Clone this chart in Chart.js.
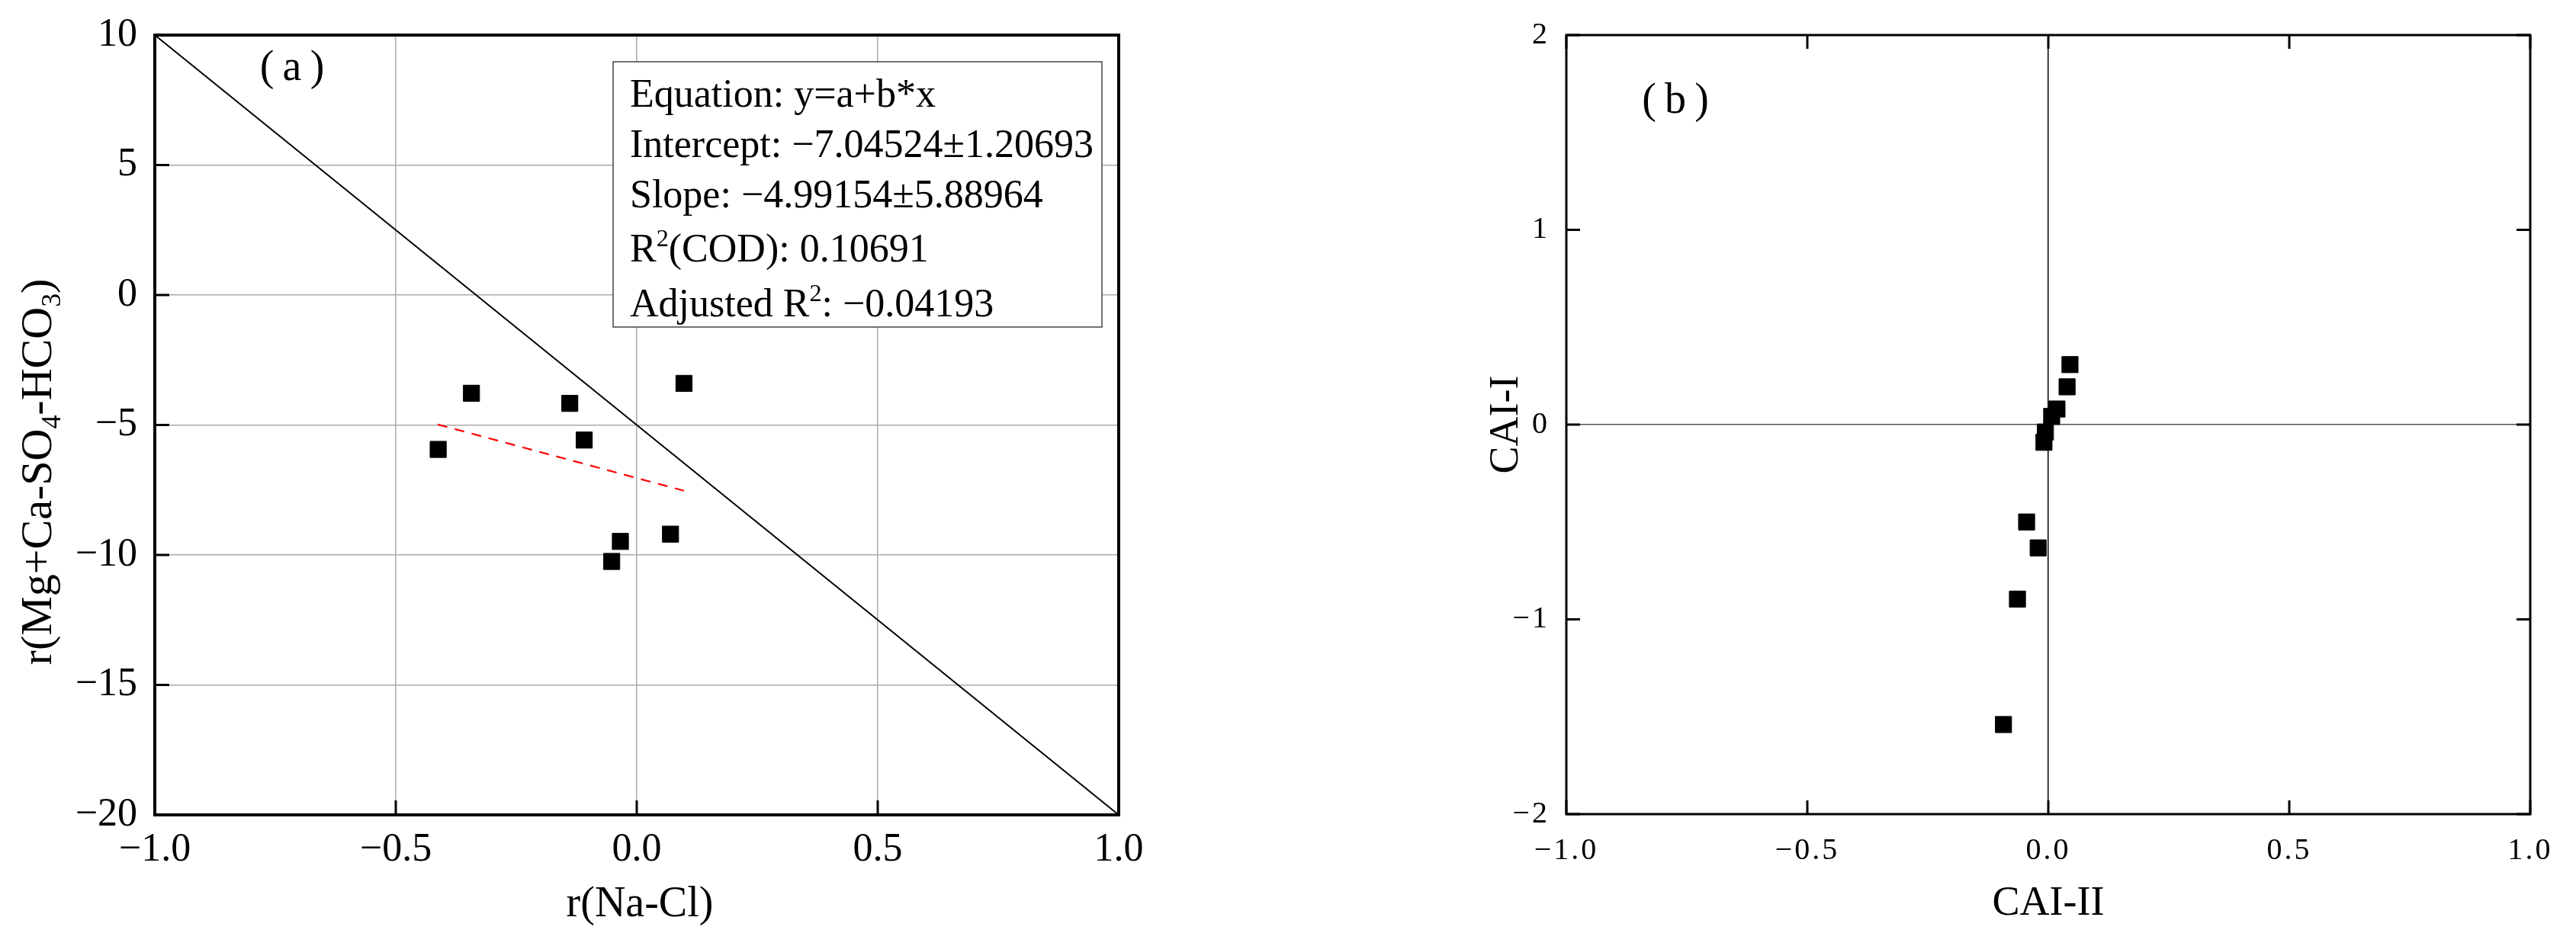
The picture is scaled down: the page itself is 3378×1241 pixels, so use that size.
<!DOCTYPE html>
<html>
<head>
<meta charset="utf-8">
<script src="https://cdn.jsdelivr.net/npm/chart.js@4.4.1/dist/chart.umd.min.js"></script>
<style>
  html, body { margin: 0; padding: 0; background: #fff; overflow: hidden; }
  canvas { position: absolute; top: 0; }
  #chartA { left: 0; }
  #chartB { left: 1689px; }
</style>
</head>
<body>
<canvas id="chartA" width="1689" height="1241"></canvas>
<canvas id="chartB" width="1689" height="1241"></canvas>
<script>
    // --- DATA ---
    // panel (a): r(Na-Cl) vs r(Mg+Ca-SO4-HCO3)
    const naCl = [-0.412, -0.343, -0.139, -0.109, 0.098, -0.034, -0.052, 0.070];
    const mgCaSo4Hco3 = [-5.94, -3.78, -4.17, -5.58, -3.40, -9.48, -10.25, -9.20];
    const fitX = [-0.413, 0.098];
    const fitY = [-4.98, -7.53];
    const refX = [-1, 1];
    const refY = [10, -20];
    const xTicksA = [-1, -0.5, 0, 0.5, 1];
    const yTicksA = [10, 5, 0, -5, -10, -15, -20];

    // fit statistics shown in the box
    const fitIntercept = -7.04524, interceptErr = 1.20693;
    const fitSlope = -4.99154, slopeErr = 5.88964;
    const r2 = 0.10691, adjR2 = -0.04193;

    // panel (b): CAI-II vs CAI-I
    const cai2 = [0.045, 0.039, 0.018, 0.007, -0.006, -0.009, -0.045, -0.021, -0.064, -0.093];
    const cai1 = [0.308, 0.194, 0.080, 0.042, -0.038, -0.091, -0.500, -0.633, -0.896, -1.540];
    const xTicksB = [-1, -0.5, 0, 0.5, 1];
    const yTicksB = [2, 1, 0, -1, -2];

    const SERIF = "'Liberation Serif', 'Times New Roman', serif";

    const minus = v => (v < 0 ? '\u2212' : '');
    const fmtX = v => minus(v) + Math.abs(v).toFixed(1);
    const fmtY = v => minus(v) + Math.abs(v);
    const fmtN = v => minus(v) + Math.abs(v).toFixed(5);

    const pts = (xs, ys) => xs.map((x, i) => ({ x: x, y: ys[i] }));

    // draw text made of runs (normal / sub / sup), optionally rotated -90deg
    function drawRuns(ctx, runs, x, y, size, family, align, rotated) {
        ctx.save();
        ctx.translate(x, y);
        if (rotated) ctx.rotate(-Math.PI / 2);
        ctx.fillStyle = '#000';
        ctx.textBaseline = 'alphabetic';
        ctx.textAlign = 'left';
        const fontOf = r => ((r.sub || r.sup) ? size * 0.62 : size) + 'px ' + family;
        let w = 0;
        runs.forEach(r => { ctx.font = fontOf(r); w += ctx.measureText(r.t).width; });
        let cx = align === 'center' ? -w / 2 : 0;
        runs.forEach(r => {
            ctx.font = fontOf(r);
            const dy = r.sub ? size * 0.2 : (r.sup ? -size * 0.38 : 0);
            ctx.fillText(r.t, cx, dy);
            cx += ctx.measureText(r.t).width;
        });
        ctx.restore();
    }

    function inwardTicks(ctx, area, xScale, yScale, xs, ys, len, sides) {
        ctx.save();
        ctx.strokeStyle = '#000';
        ctx.lineWidth = 3;
        ctx.beginPath();
        xs.forEach(v => {
            const px = xScale.getPixelForValue(v);
            if (sides.bottom) { ctx.moveTo(px, area.bottom); ctx.lineTo(px, area.bottom - len); }
            if (sides.top) { ctx.moveTo(px, area.top); ctx.lineTo(px, area.top + len); }
        });
        ys.forEach(v => {
            const py = yScale.getPixelForValue(v);
            if (sides.left) { ctx.moveTo(area.left, py); ctx.lineTo(area.left + len, py); }
            if (sides.right) { ctx.moveTo(area.right, py); ctx.lineTo(area.right - len, py); }
        });
        ctx.stroke();
        ctx.restore();
    }

    function frame(ctx, area, w) {
        ctx.save();
        ctx.strokeStyle = '#000';
        ctx.lineWidth = w;
        ctx.strokeRect(area.left, area.top, area.right - area.left, area.bottom - area.top);
        ctx.restore();
    }

    // "(a)" panel label with the wide bracket spacing of the original
    const panelLabel = ch => [{ t: '(\u2009' + ch + '\u2009)' }];

    // --- PANEL (a) ---
    const decorA = {
        id: 'decorA',
        afterDraw(chart) {
            const ctx = chart.ctx, area = chart.chartArea;
            const xs = chart.scales.x, ys = chart.scales.y;

            // fit statistics box
            ctx.save();
            ctx.fillStyle = '#fff';
            ctx.fillRect(804, 81, 641, 348);
            ctx.strokeStyle = '#444';
            ctx.lineWidth = 1.5;
            ctx.strokeRect(804, 81, 641, 348);
            ctx.restore();
            const lines = [
                [{ t: 'Equation: y=a+b*x' }],
                [{ t: 'Intercept: ' + fmtN(fitIntercept) + '\u00b1' + interceptErr.toFixed(5) }],
                [{ t: 'Slope: ' + fmtN(fitSlope) + '\u00b1' + slopeErr.toFixed(5) }],
                [{ t: 'R' }, { t: '2', sup: true }, { t: '(COD): ' + fmtN(r2) }],
                [{ t: 'Adjusted R' }, { t: '2', sup: true }, { t: ': ' + fmtN(adjR2) }]
            ];
            const baselines = [140, 206, 272, 343, 415];
            lines.forEach((runs, i) => drawRuns(ctx, runs, 826, baselines[i], 52, SERIF, 'left', false));

            frame(ctx, area, 4);
            inwardTicks(ctx, area, xs, ys, xTicksA, yTicksA, 19, { bottom: true, left: true });

            drawRuns(ctx, [{ t: 'r(Na-Cl)' }], (area.left + area.right) / 2 + 4, 1202, 56, SERIF, 'center', false);
            drawRuns(ctx, [{ t: 'r(Mg+Ca-SO' }, { t: '4', sub: true }, { t: '-HCO' }, { t: '3', sub: true }, { t: ')' }],
                67, 619, 58, SERIF, 'center', true);
            drawRuns(ctx, panelLabel('a'), 383, 105, 56, SERIF, 'center', false);
        }
    };

    new Chart(document.getElementById('chartA'), {
        type: 'scatter',
        data: {
            datasets: [
                {
                    label: 'samples',
                    data: pts(naCl, mgCaSo4Hco3),
                    pointStyle: 'rect',
                    pointRadius: 15,
                    pointHoverRadius: 15,
                    backgroundColor: '#000',
                    borderColor: '#000',
                    borderWidth: 1
                },
                {
                    label: 'fit',
                    data: pts(fitX, fitY),
                    showLine: true,
                    pointRadius: 0,
                    borderColor: '#ff0000',
                    borderWidth: 2.2,
                    borderDash: [13, 10]
                },
                {
                    label: 'reference',
                    data: pts(refX, refY),
                    showLine: true,
                    pointRadius: 0,
                    borderColor: '#000',
                    borderWidth: 2
                }
            ]
        },
        options: {
            responsive: false,
            animation: false,
            events: [],
            layout: { padding: { top: 46, right: 222, left: 0, bottom: 0 } },
            plugins: { legend: { display: false }, tooltip: { enabled: false } },
            scales: {
                x: {
                    type: 'linear', min: -1, max: 1,
                    afterBuildTicks: s => { s.ticks = xTicksA.map(v => ({ value: v })); },
                    afterFit: s => { s.height = 172; s.paddingLeft = 0; s.paddingRight = 0; },
                    grid: { color: '#aaaaaa', lineWidth: 1.5, drawTicks: false },
                    border: { display: false },
                    ticks: {
                        padding: 15, color: '#000', maxRotation: 0, autoSkip: false,
                        font: { family: SERIF, size: 52 },
                        callback: v => fmtX(v)
                    }
                },
                y: {
                    type: 'linear', min: -20, max: 10,
                    afterBuildTicks: s => { s.ticks = yTicksA.map(v => ({ value: v })); },
                    afterFit: s => { s.width = 203; s.paddingTop = 0; s.paddingBottom = 0; },
                    grid: { color: '#aaaaaa', lineWidth: 1.5, drawTicks: false },
                    border: { display: false },
                    ticks: {
                        padding: 23, color: '#000', autoSkip: false,
                        font: { family: SERIF, size: 52 },
                        callback: v => fmtY(v)
                    }
                }
            }
        },
        plugins: [decorA]
    });

    // --- PANEL (b) ---
    const decorB = {
        id: 'decorB',
        beforeDraw(chart) {
            chart.ctx.letterSpacing = '3px';
        },
        afterDraw(chart) {
            const ctx = chart.ctx, area = chart.chartArea;
            ctx.letterSpacing = '0px';
            frame(ctx, area, 3);
            inwardTicks(ctx, area, chart.scales.x, chart.scales.y, xTicksB, yTicksB, 18,
                { bottom: true, top: true, left: true, right: true });
            drawRuns(ctx, [{ t: 'CAI-II' }], (area.left + area.right) / 2, 1200, 54, SERIF, 'center', false);
            drawRuns(ctx, [{ t: 'CAI-I' }], 301, (area.top + area.bottom) / 2, 54, SERIF, 'center', true);
            drawRuns(ctx, panelLabel('b'), 508, 148, 56, SERIF, 'center', false);
        }
    };

    const zeroOnly = (c, col) => (c.tick && c.tick.value === 0 ? col : 'rgba(0,0,0,0)');

    new Chart(document.getElementById('chartB'), {
        type: 'scatter',
        data: {
            datasets: [{
                label: 'CAI',
                data: pts(cai2, cai1),
                pointStyle: 'rect',
                pointRadius: 15,
                pointHoverRadius: 15,
                backgroundColor: '#000',
                borderColor: '#000',
                borderWidth: 1
            }]
        },
        options: {
            responsive: false,
            animation: false,
            events: [],
            layout: { padding: { top: 46, right: 60, left: 0, bottom: 0 } },
            plugins: { legend: { display: false }, tooltip: { enabled: false } },
            scales: {
                x: {
                    type: 'linear', min: -1, max: 1,
                    afterBuildTicks: s => { s.ticks = xTicksB.map(v => ({ value: v })); },
                    afterFit: s => { s.height = 173; s.paddingLeft = 0; s.paddingRight = 0; },
                    grid: { color: c => zeroOnly(c, '#000'), lineWidth: 1.5, drawTicks: false },
                    border: { display: false },
                    ticks: {
                        padding: 24, color: '#000', maxRotation: 0, autoSkip: false,
                        font: { family: SERIF, size: 40 },
                        callback: v => fmtX(v)
                    }
                },
                y: {
                    type: 'linear', min: -2, max: 2,
                    afterBuildTicks: s => { s.ticks = yTicksB.map(v => ({ value: v })); },
                    afterFit: s => { s.width = 365; s.paddingTop = 0; s.paddingBottom = 0; },
                    grid: { color: c => zeroOnly(c, '#555'), lineWidth: 1.5, drawTicks: false },
                    border: { display: false },
                    ticks: {
                        padding: 22, color: '#000', autoSkip: false,
                        font: { family: SERIF, size: 40 },
                        callback: v => fmtY(v)
                    }
                }
            }
        },
        plugins: [decorB]
    });
</script>
</body>
</html>
